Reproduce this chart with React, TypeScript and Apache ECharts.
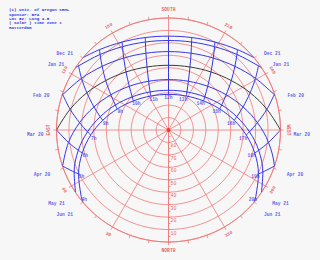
import React, { useEffect, useRef } from 'react';
import * as echarts from 'echarts';

// Title block
const TITLE_LINES = [
  '(c) Univ. of Oregon SRML',
  'Sponsor: BPA',
  'Lat 52; Long 4.5',
  '( Solar ) time zone 1',
  'Rotterdam',
];

// Dates of the sun paths
const DATES = ['Dec 21', 'Jan 21', 'Feb 20', 'Mar 20', 'Apr 20', 'May 21', 'Jun 21'];
// Solar hours
const HOURS = [4, 5, 6, 7, 8, 9, 10, 11, 12, 13, 14, 15, 16, 17, 18, 19, 20];

// Sunrise / sunset azimuths (deg, clockwise from north)
const SUNRISE_AZ = [130.3, 123.6, 108.1, 90, 71.1, 56.1, 49.8];
const SUNSET_AZ = [229.7, 236.4, 251.9, 270, 288.9, 303.9, 310.2];

// Altitude (deg) per hour, null = sun below horizon
const ALT_DEC21 = [null, null, null, null, null, 4.9, 10.1, 13.4, 14.6, 13.4, 10.1, 4.9, null, null, null, null, null];
const ALT_JAN21 = [null, null, null, null, 1.2, 8.1, 13.5, 16.9, 18.1, 16.9, 13.5, 8.1, 1.2, null, null, null, null];
const ALT_FEB20 = [null, null, null, 0.35, 8.7, 16.1, 21.9, 25.7, 27.0, 25.7, 21.9, 16.1, 8.7, 0.35, null, null, null];
const ALT_MAR20 = [null, null, 0, 9.2, 17.9, 25.8, 32.2, 36.5, 38.0, 36.5, 32.2, 25.8, 17.9, 9.2, 0, null, null];
const ALT_APR20 = [null, 0.06, 9.0, 18.3, 27.3, 35.7, 42.8, 47.7, 49.5, 47.7, 42.8, 35.7, 27.3, 18.3, 9.0, 0.06, null];
const ALT_MAY21 = [null, 7.0, 15.7, 24.9, 34.1, 42.8, 50.5, 56.0, 58.1, 56.0, 50.5, 42.8, 34.1, 24.9, 15.7, 7.0, null];
const ALT_JUN21 = [1.8, 9.6, 18.3, 27.4, 36.6, 45.5, 53.4, 59.2, 61.4, 59.2, 53.4, 45.5, 36.6, 27.4, 18.3, 9.6, 1.8];

// Azimuth (deg) per hour
const AZ_DEC21 = [null, null, null, null, null, 139.4, 152.2, 165.9, 180, 194.1, 207.8, 220.6, null, null, null, null, null];
const AZ_JAN21 = [null, null, null, null, 125.5, 137.8, 151.1, 165.3, 180, 194.7, 208.9, 222.2, 234.5, null, null, null, null];
const AZ_FEB20 = [null, null, null, 108.5, 120.7, 133.8, 148.1, 163.6, 180, 196.4, 211.9, 226.2, 239.3, 251.5, null, null, null];
const AZ_MAR20 = [null, null, 90, 101.9, 114.5, 128.2, 143.8, 161.2, 180, 198.8, 216.2, 231.8, 245.5, 258.1, 270, null, null];
const AZ_APR20 = [null, 71.2, 82.9, 94.7, 107.2, 121.4, 138.1, 157.8, 180, 202.2, 221.9, 238.6, 252.8, 265.3, 277.1, 288.8, null];
const AZ_MAY21 = [null, 66.0, 77.3, 88.7, 101.0, 115.2, 132.4, 154.2, 180, 205.8, 227.6, 244.8, 259.0, 271.3, 282.7, 294.0, null];
const AZ_JUN21 = [52.7, 64.0, 75.1, 86.3, 98.4, 112.3, 129.7, 152.4, 180, 207.6, 230.3, 247.7, 261.6, 273.7, 284.9, 296.0, 307.3];

const ALTS = [ALT_DEC21, ALT_JAN21, ALT_FEB20, ALT_MAR20, ALT_APR20, ALT_MAY21, ALT_JUN21];
const AZS = [AZ_DEC21, AZ_JAN21, AZ_FEB20, AZ_MAR20, AZ_APR20, AZ_MAY21, AZ_JUN21];

// Axis labels
const AZ_TICKS = [0, 30, 60, 90, 120, 150, 180, 210, 240, 270, 300, 330];
const AZ_LABELS = ['NORTH', '30', '60', 'EAST', '120', '150', 'SOUTH', '210', '240', 'WEST', '300', '330'];
const ALT_TICKS = [10, 20, 30, 40, 50, 60, 70, 80];

const BLUE = '#3535e8';
const BLACK = '#3a3a3a';
const RED_LINE = '#f07878';
const RED_TEXT = '#e03a3a';
const BG = '#f7f7f7';
const FONT = 'Liberation Mono';

function tangentRotation(az: number) {
  let theta = 270 - az;
  while (theta > 180) theta -= 360;
  while (theta <= -180) theta += 360;
  let rot = theta - 90;
  if (rot < -90) rot += 180;
  if (rot > 90) rot -= 180;
  return rot;
}

export default function App() {
  const ref = useRef<HTMLDivElement>(null);

  useEffect(() => {
    if (!ref.current) return;
    const chart = echarts.init(ref.current, null, { renderer: 'svg' });

    const dateSeries = DATES.map((d, i) => {
      const pts: number[][] = [[0, SUNRISE_AZ[i]]];
      HOURS.forEach((h, j) => {
        const a = ALTS[i][j];
        const z = AZS[i][j];
        if (a != null && z != null) pts.push([a, z]);
      });
      pts.push([0, SUNSET_AZ[i]]);
      return {
        type: 'line',
        coordinateSystem: 'polar',
        name: d,
        data: pts,
        smooth: 0.35,
        symbol: 'none',
        silent: true,
        clip: false,
        z: i === 3 ? 5 : 4,
        lineStyle: { color: i === 3 ? BLACK : BLUE, width: 1 },
      };
    });

    const hourSeries = HOURS.map((h, j) => {
      const pts: number[][] = [];
      DATES.forEach((d, i) => {
        const a = ALTS[i][j];
        const z = AZS[i][j];
        if (a != null && z != null) pts.push([a, z]);
      });
      return {
        type: 'line',
        coordinateSystem: 'polar',
        data: pts,
        smooth: 0.3,
        symbol: 'none',
        silent: true,
        clip: false,
        z: 4,
        lineStyle: { color: BLUE, width: 1 },
      };
    }).filter((s) => s.data.length > 1);

    const hourLabelData = HOURS.map((h, j) => {
      const az = AZ_JUN21[j];
      const dx = az < 179 ? 3 : az > 181 ? -3 : 0;
      return {
        value: [ALT_JUN21[j], az],
        label: { formatter: h + 'h', offset: [dx, 3] },
      };
    });

    const dateLabelData: any[] = [];
    DATES.forEach((d, i) => {
      dateLabelData.push({
        value: [-10.5, SUNRISE_AZ[i]],
        label: { formatter: d, position: 'left', distance: 0, offset: [0, 4] },
      });
      dateLabelData.push({
        value: [-10.5, SUNSET_AZ[i]],
        label: { formatter: d, position: 'right', distance: 0, offset: [0, 4] },
      });
    });

    const azLabelData = AZ_TICKS.map((a, k) => ({
      value: [-6.5, a],
      label: { formatter: AZ_LABELS[k], rotate: tangentRotation(a) },
    }));

    const altLabelData = ALT_TICKS.map((a) => ({
      value: [a, 0],
      label: { formatter: String(a) },
    }));

    chart.setOption({
      animation: false,
      backgroundColor: BG,
      title: {
        text: TITLE_LINES.join('\n'),
        left: 9,
        top: 8,
        padding: 0,
        textStyle: {
          fontSize: 4.2,
          lineHeight: 4.4,
          color: BLUE,
          fontFamily: FONT,
          fontWeight: 'bold',
        },
      },
      polar: { center: [168.5, 130], radius: 112 },
      angleAxis: {
        type: 'value',
        min: 0,
        max: 360,
        interval: 30,
        startAngle: 270,
        clockwise: true,
        axisLine: { lineStyle: { color: RED_LINE, width: 0.9 } },
        axisTick: { show: true, length: 3, lineStyle: { color: RED_LINE, width: 0.8 } },
        minorTick: { show: true, splitNumber: 3, length: 3, lineStyle: { color: RED_LINE, width: 0.8 } },
        axisLabel: { show: false },
        splitLine: { show: true, lineStyle: { color: RED_LINE, width: 0.8 } },
      },
      radiusAxis: {
        type: 'value',
        min: 0,
        max: 90,
        interval: 10,
        inverse: true,
        axisLine: { show: true, lineStyle: { color: RED_LINE, width: 0.8 } },
        axisTick: { show: true, length: 2, lineStyle: { color: RED_LINE, width: 0.8 } },
        minorTick: { show: true, splitNumber: 2, length: 2, lineStyle: { color: RED_LINE, width: 0.8 } },
        axisLabel: { show: false },
        splitLine: { show: true, lineStyle: { color: RED_LINE, width: 0.8 } },
      },
      series: [
        ...hourSeries,
        ...dateSeries,
        {
          type: 'scatter',
          coordinateSystem: 'polar',
          data: hourLabelData,
          symbolSize: 0,
          silent: true,
          clip: false,
          z: 6,
          label: {
            show: true,
            position: 'inside',
            color: BLUE,
            fontSize: 4.6,
            fontWeight: 'bold',
            fontFamily: FONT,
          },
        },
        {
          type: 'scatter',
          coordinateSystem: 'polar',
          data: dateLabelData,
          symbolSize: 0,
          silent: true,
          clip: false,
          z: 6,
          label: {
            show: true,
            color: BLUE,
            fontSize: 4.6,
            fontWeight: 'bold',
            fontFamily: FONT,
          },
        },
        {
          type: 'scatter',
          coordinateSystem: 'polar',
          data: azLabelData,
          symbolSize: 0,
          silent: true,
          clip: false,
          z: 6,
          label: {
            show: true,
            position: 'inside',
            color: RED_TEXT,
            fontSize: 4.6,
            fontWeight: 'bold',
            fontFamily: FONT,
          },
        },
        {
          type: 'scatter',
          coordinateSystem: 'polar',
          data: altLabelData,
          symbolSize: 0,
          silent: true,
          clip: false,
          z: 6,
          label: {
            show: true,
            position: 'right',
            distance: 2,
            offset: [0, 4],
            color: RED_TEXT,
            fontSize: 5,
            fontFamily: FONT,
          },
        },
        {
          type: 'scatter',
          coordinateSystem: 'polar',
          data: [[90, 0]],
          symbolSize: 4,
          silent: true,
          clip: false,
          z: 7,
          itemStyle: { color: '#ff2020' },
        },
      ],
    });

    return () => chart.dispose();
  }, []);

  return (
    <div
      ref={ref}
      style={{ position: 'fixed', left: 0, top: 0, width: 320, height: 260, background: BG }}
    />
  );
}
